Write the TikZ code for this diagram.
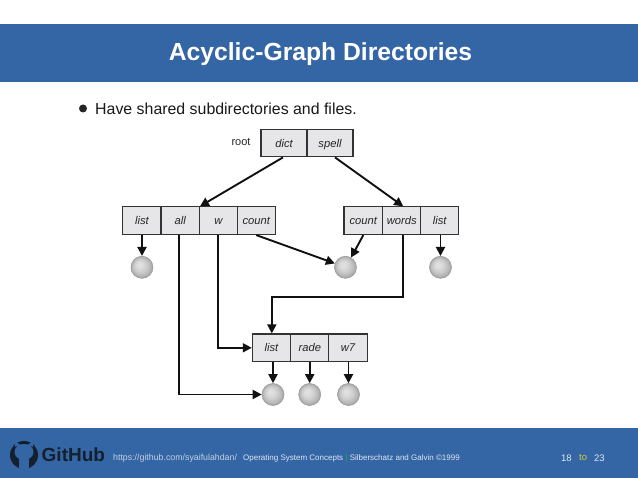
\documentclass[tikz,border=0pt]{standalone}
\usepackage{fontspec}
\setmainfont{Liberation Sans}
\usetikzlibrary{arrows.meta}
\definecolor{band}{HTML}{3465A4}
\definecolor{cellfill}{HTML}{E6E6E8}
\definecolor{ink}{HTML}{111111}
\definecolor{logoink}{HTML}{14202E}
\tikzset{
  cellbox/.style={draw=black!80,line width=1.2pt,fill=cellfill,minimum height=27.6pt,inner sep=0pt,text height=9pt,text depth=.6pt,font=\fontsize{11.2}{14}\selectfont\itshape,text=black!85,anchor=center},
  orbnode/.style={circle,minimum size=22pt,inner sep=0pt,draw=black!38,line width=.6pt,fill=black!30,
    path picture={
      \foreach \r/\s in {11/33,10/29,9/26,8/23,7/20,6/18,5/16,4/14,3/13,2/12}{
        \fill[black!\s] ([xshift={-0.25pt*(11-\r)},yshift={0.25pt*(11-\r)}]path picture bounding box.center) circle (\r pt);
      }
    }},
  link/.style={draw=ink,line width=1.9pt,-{Triangle[length=9pt,width=9pt]}},
  foot/.style={inner sep=0pt,anchor=base west}
}
\begin{document}
\begin{tikzpicture}[x=1pt,y=-1pt]
\useasboundingbox (0,0) rectangle (638,478);
\fill[white] (0,0) rectangle (638,478);
\fill[band] (0,24) rectangle (638,82);
\fill[band] (0,428) rectangle (638,478);
\node[text=white,font=\bfseries\fontsize{24.7}{30}\selectfont] (title) at (320.5,54) {Acyclic-Graph Directories};
\fill[black!85] (83,108.5) circle (4pt);
\node[inner sep=0pt,anchor=base west,font=\fontsize{15.9}{20}\selectfont,text=black!90] (body) at (95,114.5) {Have shared subdirectories and files.};
% root
\node[font=\fontsize{11}{14}\selectfont,text=black!85] (rootlabel) at (241,142) {root};
\node[cellbox,minimum width=46pt] (dict) at (284,143) {dict};
\node[cellbox,minimum width=46pt] (spell) at (330,143) {spell};
% left row
\node[cellbox,minimum width=38.3pt] (llist) at (142,220.7) {list};
\node[cellbox,minimum width=38.3pt] (lall) at (180.2,220.7) {all};
\node[cellbox,minimum width=38.3pt] (lw) at (218.3,220.7) {w};
\node[cellbox,minimum width=38.3pt] (lcount) at (256.3,220.7) {count};
% right row
\node[cellbox,minimum width=38.5pt] (rcount) at (363.3,220.7) {count};
\node[cellbox,minimum width=38.2pt] (rwords) at (401.7,220.7) {words};
\node[cellbox,minimum width=38pt] (rlist) at (439.7,220.7) {list};
% bottom row
\node[cellbox,minimum width=38.3pt] (blist) at (271.5,347.8) {list};
\node[cellbox,minimum width=38.3pt] (brade) at (309.8,347.8) {rade};
\node[cellbox,minimum width=38.3pt] (bwseven) at (348,347.8) {w7};
% files
\node[orbnode] (f1) at (142,267.3) {};
\node[orbnode] (f2) at (345.5,267.3) {};
\node[orbnode] (f3) at (440.5,267.3) {};
\node[orbnode] (f4) at (273,394.5) {};
\node[orbnode] (f5) at (309.7,394.5) {};
\node[orbnode] (f6) at (348.5,394.5) {};
% connectors
\draw[link] ([xshift=-1pt]dict.south) -- (lall.north east);
\draw[link] ([xshift=5pt]spell.south) -- ([xshift=1.5pt]rwords.north);
\draw[link] (llist.south) -- (f1.north);
\draw[link] (rlist.south -| f3.north) -- (f3.north);
\draw[link] (lcount.south) -- (f2.160);
\draw[link] (rcount.south) -- (f2.60);
\draw[link] ([xshift=1.5pt]rwords.south) |- (271.8,297) -- ([xshift=.3pt]blist.north);
\draw[link] (lw.south) |- (blist.west);
\draw[link] ([xshift=-1.2pt]lall.south) |- (f4.west);
\draw[link] (blist.south -| f4.north) -- (f4.north);
\draw[link] (brade.south -| f5.north) -- (f5.north);
\draw[link] (bwseven.south -| f6.north) -- (f6.north);
% footer logo
\fill[logoink] (24,455) circle (14pt);
\fill[band] (24,452) ellipse (9.5pt and 8pt);
\fill[band] (15,447) -- (15.5,442) -- (21,445) -- cycle;
\fill[band] (33,447) -- (32.5,442) -- (27,445) -- cycle;
\fill[band] (19,458) rectangle (29,470);
\fill[logoink] (12,462) .. controls (15,466) and (17,465) .. (19,464.5) -- (19,462) .. controls (16,462) and (15,460) .. (12,460) -- cycle;
\node[inner sep=0pt,anchor=base west,text=logoink,font=\bfseries\fontsize{19}{24}\selectfont] (gh) at (41.5,462) {GitHub};
\node[foot,text=white!70!band,font=\fontsize{8.8}{11}\selectfont] (url) at (113,461) {https://github.com/syaifulahdan/};
\node[foot,text=white!85!band,font=\fontsize{8}{11}\selectfont] (src) at (243,461) {Operating System Concepts {\color{green!60!band}|} Silberschatz and Galvin ©1999};
\node[foot,text=white!85!band,font=\fontsize{9.5}{11}\selectfont] (n1) at (561,461.5) {18};
\node[foot,text=yellow!75!band,font=\fontsize{9.5}{11}\selectfont] (to) at (579,461) {to};
\node[foot,text=white!85!band,font=\fontsize{9.5}{11}\selectfont] (n2) at (594,462) {23};
\end{tikzpicture}
\end{document}
